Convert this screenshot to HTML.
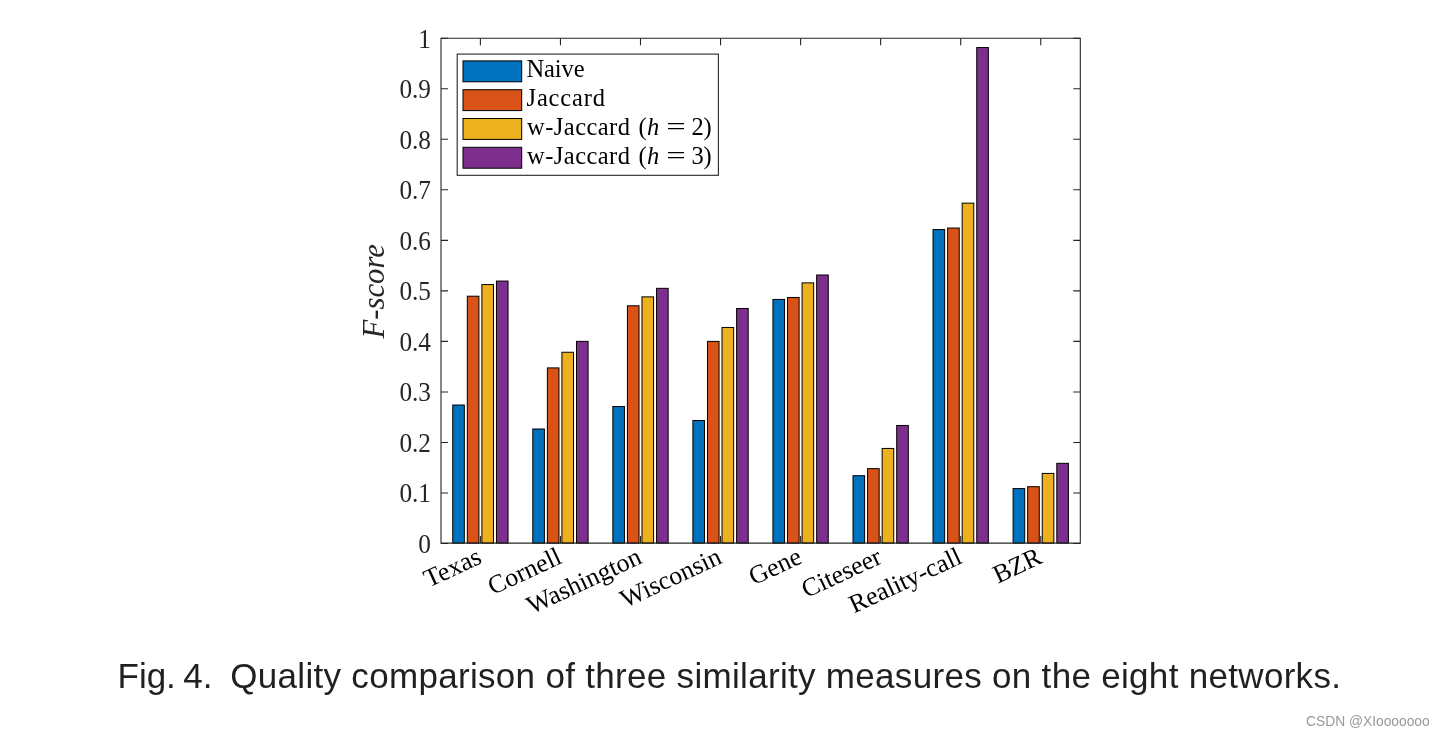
<!DOCTYPE html><html><head><meta charset="utf-8"><style>html,body{margin:0;padding:0;background:#fff;width:1444px;height:737px;overflow:hidden}svg{position:absolute;left:0;top:0;will-change:transform}</style></head><body>
<svg width="1444" height="737" viewBox="0 0 1444 737">
<rect x="452.74" y="405.01" width="11.60" height="138.09" fill="#0072BD" stroke="#000" stroke-width="1"/>
<rect x="467.31" y="296.20" width="11.60" height="246.90" fill="#D95319" stroke="#000" stroke-width="1"/>
<rect x="481.88" y="284.59" width="11.60" height="258.51" fill="#EDB120" stroke="#000" stroke-width="1"/>
<rect x="496.45" y="281.06" width="11.60" height="262.04" fill="#7E2F8E" stroke="#000" stroke-width="1"/>
<rect x="532.79" y="428.99" width="11.60" height="114.11" fill="#0072BD" stroke="#000" stroke-width="1"/>
<rect x="547.37" y="367.90" width="11.60" height="175.20" fill="#D95319" stroke="#000" stroke-width="1"/>
<rect x="561.93" y="352.25" width="11.60" height="190.85" fill="#EDB120" stroke="#000" stroke-width="1"/>
<rect x="576.50" y="341.39" width="11.60" height="201.71" fill="#7E2F8E" stroke="#000" stroke-width="1"/>
<rect x="612.85" y="406.52" width="11.60" height="136.58" fill="#0072BD" stroke="#000" stroke-width="1"/>
<rect x="627.42" y="305.80" width="11.60" height="237.30" fill="#D95319" stroke="#000" stroke-width="1"/>
<rect x="641.99" y="296.86" width="11.60" height="246.24" fill="#EDB120" stroke="#000" stroke-width="1"/>
<rect x="656.56" y="288.33" width="11.60" height="254.77" fill="#7E2F8E" stroke="#000" stroke-width="1"/>
<rect x="692.89" y="420.51" width="11.60" height="122.59" fill="#0072BD" stroke="#000" stroke-width="1"/>
<rect x="707.47" y="341.39" width="11.60" height="201.71" fill="#D95319" stroke="#000" stroke-width="1"/>
<rect x="722.03" y="327.46" width="11.60" height="215.64" fill="#EDB120" stroke="#000" stroke-width="1"/>
<rect x="736.61" y="308.52" width="11.60" height="234.58" fill="#7E2F8E" stroke="#000" stroke-width="1"/>
<rect x="772.94" y="299.44" width="11.60" height="243.66" fill="#0072BD" stroke="#000" stroke-width="1"/>
<rect x="787.51" y="297.47" width="11.60" height="245.63" fill="#D95319" stroke="#000" stroke-width="1"/>
<rect x="802.08" y="282.87" width="11.60" height="260.23" fill="#EDB120" stroke="#000" stroke-width="1"/>
<rect x="816.65" y="275.00" width="11.60" height="268.10" fill="#7E2F8E" stroke="#000" stroke-width="1"/>
<rect x="853.00" y="475.70" width="11.60" height="67.40" fill="#0072BD" stroke="#000" stroke-width="1"/>
<rect x="867.57" y="468.63" width="11.60" height="74.47" fill="#D95319" stroke="#000" stroke-width="1"/>
<rect x="882.13" y="448.43" width="11.60" height="94.67" fill="#EDB120" stroke="#000" stroke-width="1"/>
<rect x="896.71" y="425.46" width="11.60" height="117.64" fill="#7E2F8E" stroke="#000" stroke-width="1"/>
<rect x="933.04" y="229.56" width="11.60" height="313.54" fill="#0072BD" stroke="#000" stroke-width="1"/>
<rect x="947.62" y="228.04" width="11.60" height="315.06" fill="#D95319" stroke="#000" stroke-width="1"/>
<rect x="962.18" y="203.15" width="11.60" height="339.95" fill="#EDB120" stroke="#000" stroke-width="1"/>
<rect x="976.75" y="47.54" width="11.60" height="495.56" fill="#7E2F8E" stroke="#000" stroke-width="1"/>
<rect x="1013.10" y="488.57" width="11.60" height="54.53" fill="#0072BD" stroke="#000" stroke-width="1"/>
<rect x="1027.66" y="486.70" width="11.60" height="56.40" fill="#D95319" stroke="#000" stroke-width="1"/>
<rect x="1042.24" y="473.42" width="11.60" height="69.68" fill="#EDB120" stroke="#000" stroke-width="1"/>
<rect x="1056.81" y="463.33" width="11.60" height="79.77" fill="#7E2F8E" stroke="#000" stroke-width="1"/>
<path d="M441.00 38.20H1080.30V543.10H441.00Z" fill="none" stroke="#262626" stroke-width="1.1"/>
<path d="M441.00 543.55h7.0M1080.30 543.55h-7.0M441.00 493.01h7.0M1080.30 493.01h-7.0M441.00 442.48h7.0M1080.30 442.48h-7.0M441.00 391.95h7.0M1080.30 391.95h-7.0M441.00 341.41h7.0M1080.30 341.41h-7.0M441.00 290.88h7.0M1080.30 290.88h-7.0M441.00 240.34h7.0M1080.30 240.34h-7.0M441.00 189.81h7.0M1080.30 189.81h-7.0M441.00 139.27h7.0M1080.30 139.27h-7.0M441.00 88.74h7.0M1080.30 88.74h-7.0M441.00 38.20h7.0M1080.30 38.20h-7.0M480.40 38.20v7.0M480.40 543.10v-7.0M560.45 38.20v7.0M560.45 543.10v-7.0M640.50 38.20v7.0M640.50 543.10v-7.0M720.55 38.20v7.0M720.55 543.10v-7.0M800.60 38.20v7.0M800.60 543.10v-7.0M880.65 38.20v7.0M880.65 543.10v-7.0M960.70 38.20v7.0M960.70 543.10v-7.0M1040.75 38.20v7.0M1040.75 543.10v-7.0" fill="none" stroke="#262626" stroke-width="1.1"/>
<text transform="translate(431.0,552.70) scale(1,1.11)" font-family="Liberation Serif" font-size="25.3" text-anchor="end" fill="#262626">0</text>
<text transform="translate(431.0,502.21) scale(1,1.11)" font-family="Liberation Serif" font-size="25.3" text-anchor="end" fill="#262626">0.1</text>
<text transform="translate(431.0,451.72) scale(1,1.11)" font-family="Liberation Serif" font-size="25.3" text-anchor="end" fill="#262626">0.2</text>
<text transform="translate(431.0,401.23) scale(1,1.11)" font-family="Liberation Serif" font-size="25.3" text-anchor="end" fill="#262626">0.3</text>
<text transform="translate(431.0,350.74) scale(1,1.11)" font-family="Liberation Serif" font-size="25.3" text-anchor="end" fill="#262626">0.4</text>
<text transform="translate(431.0,300.25) scale(1,1.11)" font-family="Liberation Serif" font-size="25.3" text-anchor="end" fill="#262626">0.5</text>
<text transform="translate(431.0,249.76) scale(1,1.11)" font-family="Liberation Serif" font-size="25.3" text-anchor="end" fill="#262626">0.6</text>
<text transform="translate(431.0,199.27) scale(1,1.11)" font-family="Liberation Serif" font-size="25.3" text-anchor="end" fill="#262626">0.7</text>
<text transform="translate(431.0,148.78) scale(1,1.11)" font-family="Liberation Serif" font-size="25.3" text-anchor="end" fill="#262626">0.8</text>
<text transform="translate(431.0,98.29) scale(1,1.11)" font-family="Liberation Serif" font-size="25.3" text-anchor="end" fill="#262626">0.9</text>
<text transform="translate(431.0,47.80) scale(1,1.11)" font-family="Liberation Serif" font-size="25.3" text-anchor="end" fill="#262626">1</text>
<text transform="translate(475.40,545.80) rotate(-25)" font-family="Liberation Serif" font-size="25.9" text-anchor="end" fill="#000" dominant-baseline="hanging">Texas</text>
<text transform="translate(555.45,545.80) rotate(-25)" font-family="Liberation Serif" font-size="25.9" text-anchor="end" fill="#000" dominant-baseline="hanging">Cornell</text>
<text transform="translate(635.50,545.80) rotate(-25)" font-family="Liberation Serif" font-size="25.9" text-anchor="end" fill="#000" dominant-baseline="hanging">Washington</text>
<text transform="translate(715.55,545.80) rotate(-25)" font-family="Liberation Serif" font-size="25.9" text-anchor="end" fill="#000" dominant-baseline="hanging">Wisconsin</text>
<text transform="translate(795.60,545.80) rotate(-25)" font-family="Liberation Serif" font-size="25.9" text-anchor="end" fill="#000" dominant-baseline="hanging">Gene</text>
<text transform="translate(875.65,545.80) rotate(-25)" font-family="Liberation Serif" font-size="25.9" text-anchor="end" fill="#000" dominant-baseline="hanging">Citeseer</text>
<text transform="translate(955.70,545.80) rotate(-25)" font-family="Liberation Serif" font-size="25.9" text-anchor="end" fill="#000" dominant-baseline="hanging">Reality-call</text>
<text transform="translate(1035.75,545.80) rotate(-25)" font-family="Liberation Serif" font-size="25.9" text-anchor="end" fill="#000" dominant-baseline="hanging">BZR</text>
<text transform="translate(384,291.3) rotate(-90)" font-family="Liberation Serif" font-style="italic" font-size="30.8" text-anchor="middle" fill="#262626">F-score</text>
<rect x="457.2" y="54.1" width="261.2" height="121.2" fill="#fff" stroke="#262626" stroke-width="1.1"/>
<rect x="463" y="60.90" width="58.7" height="20.9" fill="#0072BD" stroke="#000" stroke-width="1"/>
<rect x="463" y="89.70" width="58.7" height="20.9" fill="#D95319" stroke="#000" stroke-width="1"/>
<rect x="463" y="118.50" width="58.7" height="20.9" fill="#EDB120" stroke="#000" stroke-width="1"/>
<rect x="463" y="147.30" width="58.7" height="20.9" fill="#7E2F8E" stroke="#000" stroke-width="1"/>
<text x="526.5" y="77.30" font-family="Liberation Serif" font-size="24.5" fill="#000" textLength="58" lengthAdjust="spacing">Naive</text>
<text x="526.5" y="106.10" font-family="Liberation Serif" font-size="24.5" fill="#000" textLength="78.5" lengthAdjust="spacing">Jaccard</text>
<text x="527" y="134.90" font-family="Liberation Serif" font-size="24.5" fill="#000" textLength="103" lengthAdjust="spacing">w-Jaccard</text>
<text x="638.6" y="134.90" font-family="Liberation Serif" font-size="24.5" fill="#000">(</text>
<text x="647" y="134.90" font-family="Liberation Serif" font-size="24.5" fill="#000" font-style="italic">h</text>
<text x="666.3" y="134.90" font-family="Liberation Serif" font-size="24.5" fill="#000" textLength="19.5" lengthAdjust="spacingAndGlyphs">=</text>
<text x="691.5" y="134.90" font-family="Liberation Serif" font-size="24.5" fill="#000">2</text>
<text x="703.6" y="134.90" font-family="Liberation Serif" font-size="24.5" fill="#000">)</text>
<text x="527" y="163.70" font-family="Liberation Serif" font-size="24.5" fill="#000" textLength="103" lengthAdjust="spacing">w-Jaccard</text>
<text x="638.6" y="163.70" font-family="Liberation Serif" font-size="24.5" fill="#000">(</text>
<text x="647" y="163.70" font-family="Liberation Serif" font-size="24.5" fill="#000" font-style="italic">h</text>
<text x="666.3" y="163.70" font-family="Liberation Serif" font-size="24.5" fill="#000" textLength="19.5" lengthAdjust="spacingAndGlyphs">=</text>
<text x="691.5" y="163.70" font-family="Liberation Serif" font-size="24.5" fill="#000">3</text>
<text x="703.6" y="163.70" font-family="Liberation Serif" font-size="24.5" fill="#000">)</text>
</svg>
<div style="position:absolute;left:117.5px;top:656px;font-family:'Liberation Sans',sans-serif;font-size:35px;letter-spacing:0.31px;color:#231f20;white-space:nowrap" id="cap"><span style="letter-spacing:0px;word-spacing:-2.4px">Fig. 4.</span><span style="letter-spacing:0px;word-spacing:0px;margin-left:-1.6px">&nbsp; </span>Quality comparison of three similarity measures on the eight networks.</div>
<div style="position:absolute;left:1306px;top:713.5px;font-family:'Liberation Sans',sans-serif;font-size:13.8px;color:#999;white-space:nowrap" id="wm">CSDN @XIooooooo</div>
</body></html>
